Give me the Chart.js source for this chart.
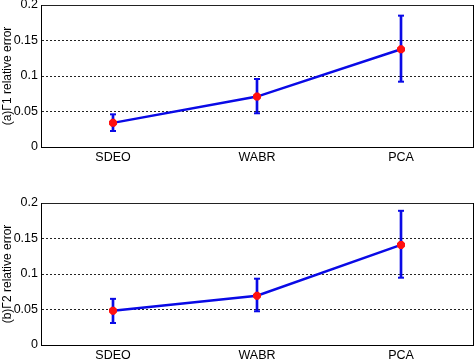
<!DOCTYPE html>
<html>
<head>
<meta charset="utf-8">
<script src="https://cdn.jsdelivr.net/npm/chart.js@4/dist/chart.umd.min.js"></script>
<style>
  html, body { margin: 0; padding: 0; background: #fff; overflow: hidden; width: 474px; height: 361px; }
  .panel { position: absolute; left: 0; width: 494px; }
  #top { top: -10px; height: 190px; }
  #bottom { top: 180px; height: 181px; }
</style>
</head>
<body>
<div class="panel" id="top"><canvas id="chart1"></canvas></div>
<div class="panel" id="bottom"><canvas id="chart2"></canvas></div>
<script>
const methods = ['SDEO', 'WABR', 'PCA'];
const yTickLabels = ['0', '0.05', '0.1', '0.15', '0.2'];

// (a) Γ1 relative error
const err1Mean = [0.034, 0.071, 0.1376];
const err1Low = [0.0225, 0.0475, 0.092];
const err1High = [0.046, 0.0958, 0.185];

// (b) Γ2 relative error
const err2Mean = [0.0483, 0.0694, 0.141];
const err2Low = [0.031, 0.0475, 0.0948];
const err2High = [0.065, 0.0934, 0.189];

const BLUE = '#0a0ae6';
const RED = '#ff1010';
const FONT = { family: 'Liberation Sans, Arial, sans-serif', size: 12.5 };

Chart.defaults.color = '#000';
Chart.defaults.font.family = FONT.family;

function makeChart(id, title, mean, low, high, padTop, xHeight) {
  const ctx = document.getElementById(id).getContext('2d');
  return new Chart(ctx, {
    data: {
      labels: methods,
      datasets: [
        {
          type: 'line',
          data: mean,
          borderColor: BLUE,
          borderWidth: 2.5,
          pointStyle: 'star',
          pointRadius: 4,
          pointBorderWidth: 3.5,
          pointBorderColor: RED,
          pointBackgroundColor: RED,
          order: 0
        },
        {
          // vertical error bars
          type: 'bar',
          data: low.map((v, i) => [v, high[i]]),
          backgroundColor: BLUE,
          barThickness: 2,
          borderWidth: 0,
          order: 3
        },
        {
          type: 'line',
          data: low,
          showLine: false,
          pointStyle: 'line',
          pointRadius: 3,
          pointBorderWidth: 2,
          pointBorderColor: BLUE,
          order: 2
        },
        {
          type: 'line',
          data: high,
          showLine: false,
          pointStyle: 'line',
          pointRadius: 3,
          pointBorderWidth: 2,
          pointBorderColor: BLUE,
          order: 2
        }
      ]
    },
    options: {
      responsive: true,
      maintainAspectRatio: false,
      animation: false,
      layout: { padding: { top: padTop, right: 21, left: 0, bottom: 0 } },
      plugins: {
        legend: { display: false },
        tooltip: { enabled: false }
      },
      scales: {
        x: {
          offset: true,
          grid: { display: false, drawTicks: false },
          border: { display: true, color: '#000', width: 1 },
          ticks: { font: FONT, padding: 3, color: '#000' },
          afterFit: (s) => { s.height = xHeight; }
        },
        y: {
          min: 0,
          max: 0.2,
          ticks: {
            stepSize: 0.05,
            font: FONT,
            padding: 3,
            color: '#000',
            callback: (v, i) => yTickLabels[i]
          },
          grid: { color: '#222', lineWidth: 1, drawTicks: false },
          border: {
            display: true,
            color: '#000',
            dash: (c) => (c.tick && (Math.abs(c.tick.value - 0.2) < 1e-9 || c.tick.value === 0)) ? [] : [2, 2]
          },
          title: {
            display: true,
            text: title,
            font: { family: FONT.family, size: 12 },
            padding: 0,
            color: '#000'
          },
          afterFit: (s) => { s.width = 41; }
        },
        y2: {
          position: 'right',
          min: 0,
          max: 0.2,
          ticks: { display: false },
          grid: { display: false, drawTicks: false },
          border: { display: true, color: '#000' },
          afterFit: (s) => { s.width = 0; }
        }
      }
    }
  });
}

makeChart('chart1', '(a)Γ1 relative error', err1Mean, err1Low, err1High, 15, 33);
makeChart('chart2', '(b)Γ2 relative error', err2Mean, err2Low, err2High, 23, 16);
</script>
</body>
</html>
